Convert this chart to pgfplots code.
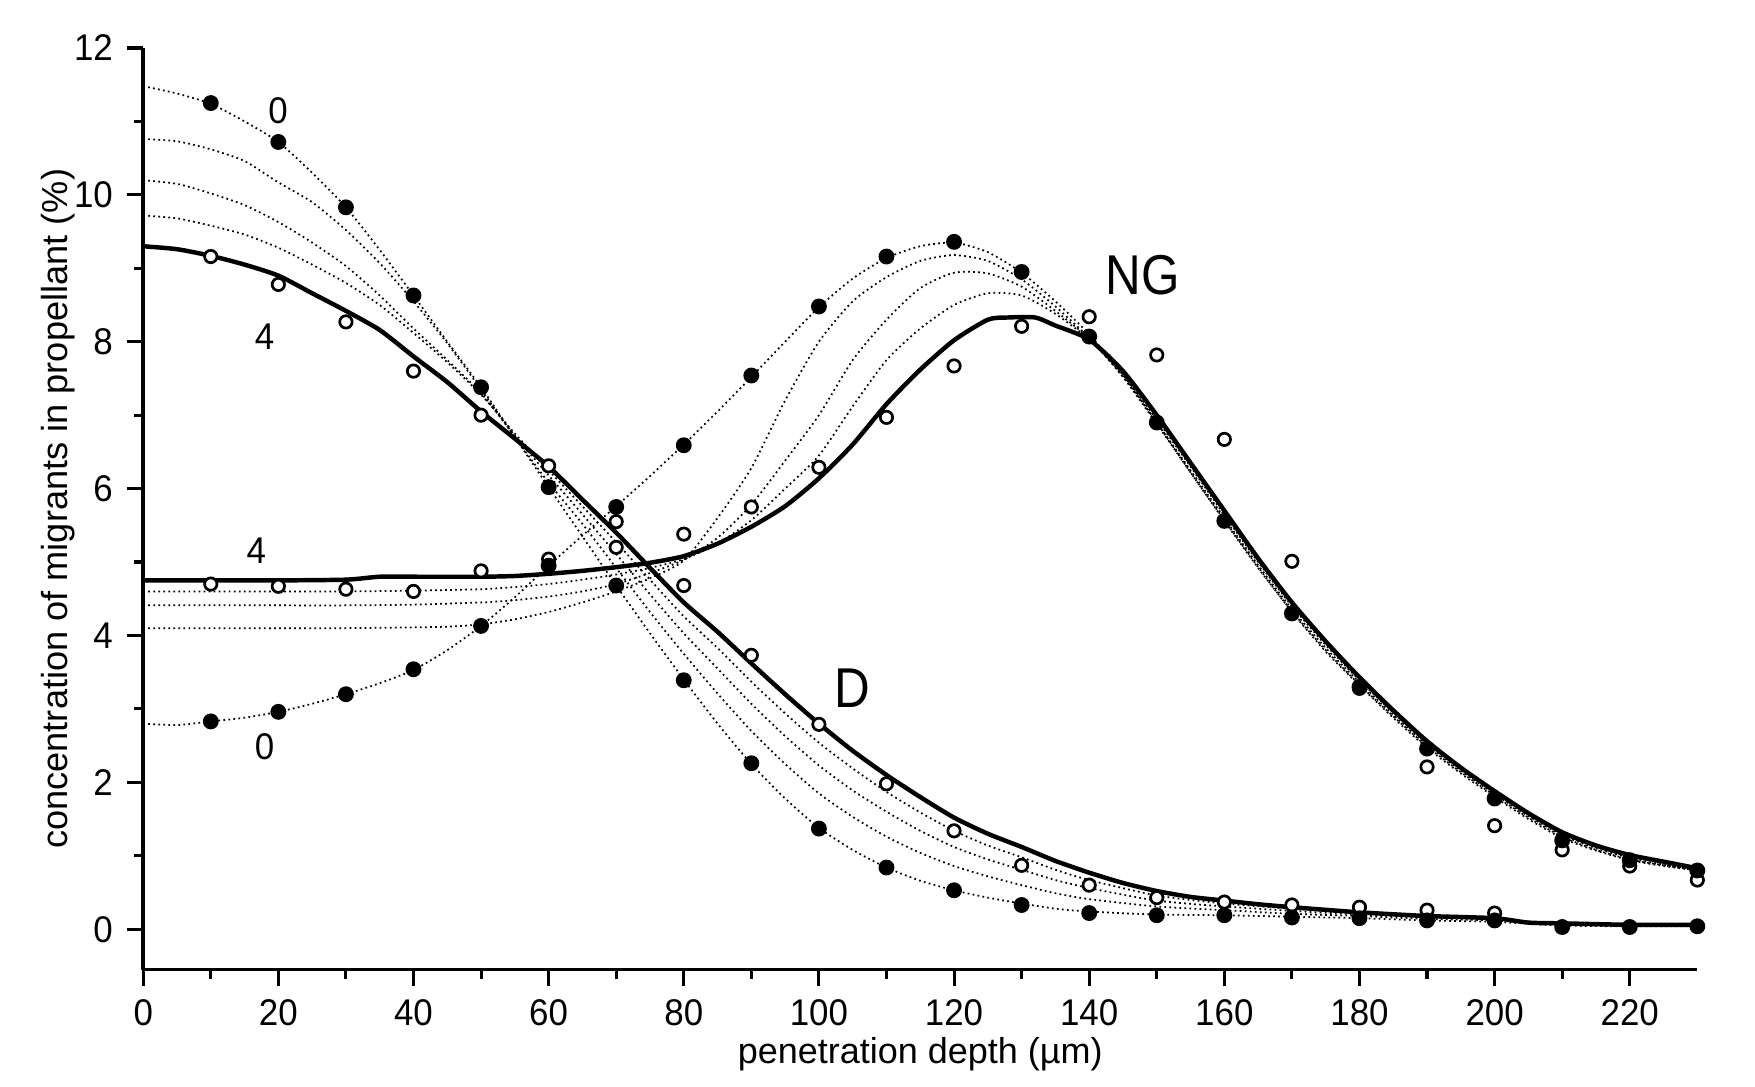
\documentclass[border=0pt]{standalone}
\usepackage{fontspec}
\setmainfont{Liberation Sans}
\newfontfamily\cfa[FakeStretch=0.88]{Liberation Sans}
\newfontfamily\cft[FakeStretch=0.939]{Liberation Sans}
\usepackage{pgfplots}
\pgfplotsset{compat=1.18}
\pgfplotsset{
  dotc/.style={black, line width=0.45pt, dash pattern=on 0.45pt off 0.85pt, smooth, tension=0.4, no markers},
  solc/.style={black, line width=1.15pt, smooth, tension=0.4, no markers},
  fillm/.style={black, only marks, mark=*, mark size=1.85pt},
  openm/.style={black, only marks, mark=*, mark size=1.6pt, mark options={fill=white, draw=black, line width=0.7pt}},
}
\begin{document}
\begin{tikzpicture}
\begin{axis}[
  name=ax,
  scale only axis,
  width=401.5pt, height=238.1pt,
  xmin=0, xmax=230, ymin=-0.55, ymax=12,
  axis x line=bottom, axis y line=left,
  axis line style={line width=0.9pt, -},
  xtick={0,20,...,220}, ytick={0,2,...,12},
  minor x tick num=1, minor y tick num=1,
  tick align=outside,
  major tick length=4.3pt, minor tick length=2.4pt,
  tick style={black, line width=0.8pt},
  tick label style={font=\cft\fontsize{9.6}{11}\selectfont},
  /pgf/number format/assume math mode=true,
  xlabel={penetration depth (µm)},
  ylabel={concentration of migrants in propellant (\%)},
  every axis x label/.style={at={(axis description cs:0.5,-0.102)}, anchor=base, font=\fontsize{9.3}{11}\selectfont},
  every axis y label/.style={at={(axis description cs:-0.0548,0.5)}, anchor=center, rotate=90, font=\fontsize{9.35}{11}\selectfont},
]
% D curves
\addplot[dotc] coordinates {(0,11.48)(5,11.38)(10,11.24)(15,11.0)(20,10.72)(25,10.3)(30,9.83)(35,9.25)(40,8.63)(45,8.0)(50,7.38)(55,6.7)(60,6.02)(65,5.35)(70,4.68)(75,4.03)(80,3.4)(85,2.8)(90,2.25)(95,1.78)(100,1.38)(105,1.08)(110,0.84)(115,0.66)(120,0.53)(125,0.43)(130,0.35)(135,0.28)(140,0.24)(150,0.2)(160,0.19)(170,0.17)(180,0.15)(190,0.12)(200,0.1)(210,0.05)(220,0.04)(230,0.04)};
\addplot[dotc] coordinates {(0,10.76)(5,10.73)(10,10.62)(15,10.46)(20,10.17)(25,9.9)(30,9.52)(35,9.07)(40,8.55)(45,7.98)(50,7.35)(55,6.7)(60,6.08)(65,5.52)(70,4.92)(75,4.32)(80,3.75)(85,3.21)(90,2.7)(95,2.25)(100,1.85)(105,1.53)(110,1.26)(115,1.04)(120,0.86)(125,0.72)(130,0.6)(135,0.49)(140,0.41)(150,0.31)(160,0.26)(170,0.21)(180,0.18)(190,0.14)(200,0.12)(210,0.06)(220,0.05)(230,0.05)};
\addplot[dotc] coordinates {(0,10.2)(5,10.15)(10,10.02)(15,9.86)(20,9.63)(25,9.35)(30,9.03)(35,8.63)(40,8.18)(45,7.75)(50,7.3)(55,6.72)(60,6.18)(65,5.65)(70,5.11)(75,4.56)(80,4.03)(85,3.55)(90,3.07)(95,2.63)(100,2.23)(105,1.89)(110,1.6)(115,1.34)(120,1.12)(125,0.95)(130,0.81)(135,0.67)(140,0.56)(150,0.39)(160,0.31)(170,0.25)(180,0.2)(190,0.16)(200,0.13)(210,0.07)(220,0.05)(230,0.05)};
\addplot[dotc] coordinates {(0,9.72)(5,9.68)(10,9.58)(15,9.46)(20,9.28)(25,9.05)(30,8.8)(35,8.5)(40,8.12)(45,7.72)(50,7.28)(55,6.75)(60,6.25)(65,5.76)(70,5.27)(75,4.76)(80,4.26)(85,3.83)(90,3.37)(95,2.94)(100,2.54)(105,2.19)(110,1.87)(115,1.59)(120,1.34)(125,1.14)(130,0.98)(135,0.81)(140,0.67)(150,0.46)(160,0.35)(170,0.28)(180,0.22)(190,0.17)(200,0.14)(210,0.07)(220,0.06)(230,0.06)};
% NG curves
\addplot[dotc] coordinates {(0,2.8)(5,2.78)(10,2.83)(15,2.88)(20,2.96)(25,3.07)(30,3.2)(35,3.35)(40,3.53)(45,3.8)(50,4.13)(55,4.52)(60,4.95)(65,5.36)(70,5.76)(75,6.17)(80,6.6)(85,7.05)(90,7.52)(95,8.0)(100,8.47)(105,8.86)(110,9.14)(115,9.3)(120,9.35)(125,9.22)(130,8.94)(135,8.55)(140,8.1)(145,7.55)(150,6.9)(155,6.22)(160,5.57)(165,4.93)(170,4.32)(175,3.78)(180,3.32)(185,2.88)(190,2.47)(195,2.12)(200,1.8)(205,1.5)(210,1.24)(215,1.07)(220,0.94)(225,0.86)(230,0.8)};
\addplot[dotc] coordinates {(0,4.1)(10,4.1)(20,4.1)(30,4.1)(40,4.11)(45,4.12)(50,4.15)(55,4.22)(60,4.32)(65,4.45)(70,4.6)(75,4.78)(80,5.02)(85,5.6)(90,6.28)(95,7.2)(100,8.0)(105,8.55)(110,8.88)(115,9.1)(120,9.18)(125,9.1)(130,8.85)(135,8.48)(140,8.05)(145,7.52)(150,6.88)(155,6.22)(160,5.56)(165,4.92)(170,4.33)(175,3.8)(180,3.33)(185,2.9)(190,2.49)(195,2.14)(200,1.82)(205,1.52)(210,1.26)(215,1.08)(220,0.95)(225,0.87)(230,0.8)};
\addplot[dotc] coordinates {(0,4.41)(10,4.41)(20,4.41)(30,4.41)(40,4.42)(50,4.45)(55,4.48)(60,4.53)(65,4.6)(70,4.7)(75,4.85)(80,5.03)(85,5.33)(90,5.78)(95,6.38)(100,7.0)(105,7.75)(110,8.3)(115,8.73)(120,8.94)(125,8.93)(130,8.75)(135,8.42)(140,8.04)(145,7.53)(150,6.9)(155,6.25)(160,5.6)(165,4.96)(170,4.36)(175,3.83)(180,3.36)(185,2.92)(190,2.51)(195,2.16)(200,1.84)(205,1.54)(210,1.28)(215,1.1)(220,0.97)(225,0.88)(230,0.81)};
\addplot[dotc] coordinates {(0,4.6)(10,4.6)(20,4.6)(30,4.6)(40,4.61)(50,4.63)(55,4.66)(60,4.7)(65,4.76)(70,4.83)(75,4.92)(80,5.04)(85,5.25)(90,5.57)(95,6.0)(100,6.45)(105,7.12)(110,7.75)(115,8.18)(120,8.5)(125,8.66)(130,8.63)(135,8.38)(140,8.03)(145,7.55)(150,6.94)(155,6.3)(160,5.64)(165,5.0)(170,4.4)(175,3.87)(180,3.39)(185,2.95)(190,2.53)(195,2.18)(200,1.86)(205,1.56)(210,1.3)(215,1.12)(220,0.99)(225,0.9)(230,0.82)};
% solid curves (t = 4)
\addplot[solc] coordinates {(0,9.3)(5,9.26)(10,9.17)(15,9.05)(20,8.9)(25,8.66)(30,8.42)(35,8.16)(40,7.8)(45,7.45)(50,7.05)(55,6.68)(60,6.3)(65,5.85)(70,5.4)(75,4.92)(80,4.45)(85,4.05)(90,3.62)(95,3.2)(100,2.8)(105,2.43)(110,2.1)(115,1.8)(120,1.52)(125,1.3)(130,1.12)(135,0.93)(140,0.77)(145,0.63)(150,0.52)(155,0.44)(160,0.39)(165,0.34)(170,0.3)(180,0.23)(190,0.18)(200,0.15)(205,0.09)(210,0.08)(220,0.06)(230,0.06)};
\addplot[solc] coordinates {(0,4.75)(10,4.75)(20,4.75)(30,4.76)(35,4.8)(40,4.8)(50,4.8)(55,4.81)(60,4.84)(65,4.88)(70,4.93)(75,4.99)(80,5.08)(85,5.25)(90,5.48)(95,5.76)(100,6.14)(105,6.6)(110,7.15)(115,7.62)(120,8.02)(125,8.3)(128,8.33)(132,8.33)(135,8.22)(140,8.03)(145,7.6)(150,7.0)(155,6.35)(160,5.7)(165,5.05)(170,4.45)(175,3.92)(180,3.43)(185,2.98)(190,2.56)(195,2.2)(200,1.88)(205,1.58)(210,1.32)(215,1.14)(220,1.01)(225,0.92)(230,0.83)};
% measured points
\addplot[openm] coordinates {(10,9.16)(20,8.78)(30,8.27)(40,7.6)(50,7.0)(60,6.31)(70,5.55)(80,4.68)(90,3.73)(100,2.79)(110,1.98)(120,1.34)(130,0.87)(140,0.6)(150,0.43)(160,0.37)(170,0.33)(180,0.3)(190,0.26)(200,0.22)};
\addplot[openm] coordinates {(10,4.7)(20,4.67)(30,4.63)(40,4.6)(50,4.88)(60,5.04)(70,5.2)(80,5.38)(90,5.75)(100,6.29)(110,6.97)(120,7.67)(130,8.21)(140,8.34)(150,7.82)(160,6.67)(170,5.01)(180,3.28)(190,2.21)(200,1.41)(210,1.08)(220,0.86)(230,0.67)};
\addplot[fillm] coordinates {(10,11.25)(20,10.72)(30,9.83)(40,8.63)(50,7.38)(60,6.02)(70,4.68)(80,3.39)(90,2.26)(100,1.37)(110,0.84)(120,0.53)(130,0.33)(140,0.22)(150,0.19)(160,0.19)(170,0.16)(180,0.15)(190,0.12)(200,0.12)(210,0.03)(220,0.03)(230,0.04)};
\addplot[fillm] coordinates {(10,2.83)(20,2.96)(30,3.2)(40,3.54)(50,4.13)(60,4.95)(70,5.75)(80,6.59)(90,7.54)(100,8.48)(110,9.16)(120,9.36)(130,8.95)(140,8.07)(150,6.9)(160,5.56)(170,4.3)(180,3.3)(190,2.46)(200,1.78)(210,1.21)(220,0.94)(230,0.8)};
% labels
\node[font=\cft\fontsize{9.6}{11}\selectfont] at (axis cs:19.95,11.14) {0};
\node[font=\cft\fontsize{9.6}{11}\selectfont] at (axis cs:17.97,8.07) {4};
\node[font=\cft\fontsize{9.6}{11}\selectfont] at (axis cs:16.73,5.16) {4};
\node[font=\cft\fontsize{9.6}{11}\selectfont] at (axis cs:17.97,2.49) {0};
\node[font=\cfa\fontsize{14.5}{16}\selectfont] at (axis cs:147.9,8.9) {NG};
\node[font=\cfa\fontsize{14.5}{16}\selectfont] at (axis cs:105,3.28) {D};
\end{axis}
\pgfresetboundingbox
\path[use as bounding box] ([shift={(-37pt,-30.1pt)}]ax.south west) rectangle ([shift={(14.9pt,12.4pt)}]ax.north east);
\end{tikzpicture}
\end{document}
